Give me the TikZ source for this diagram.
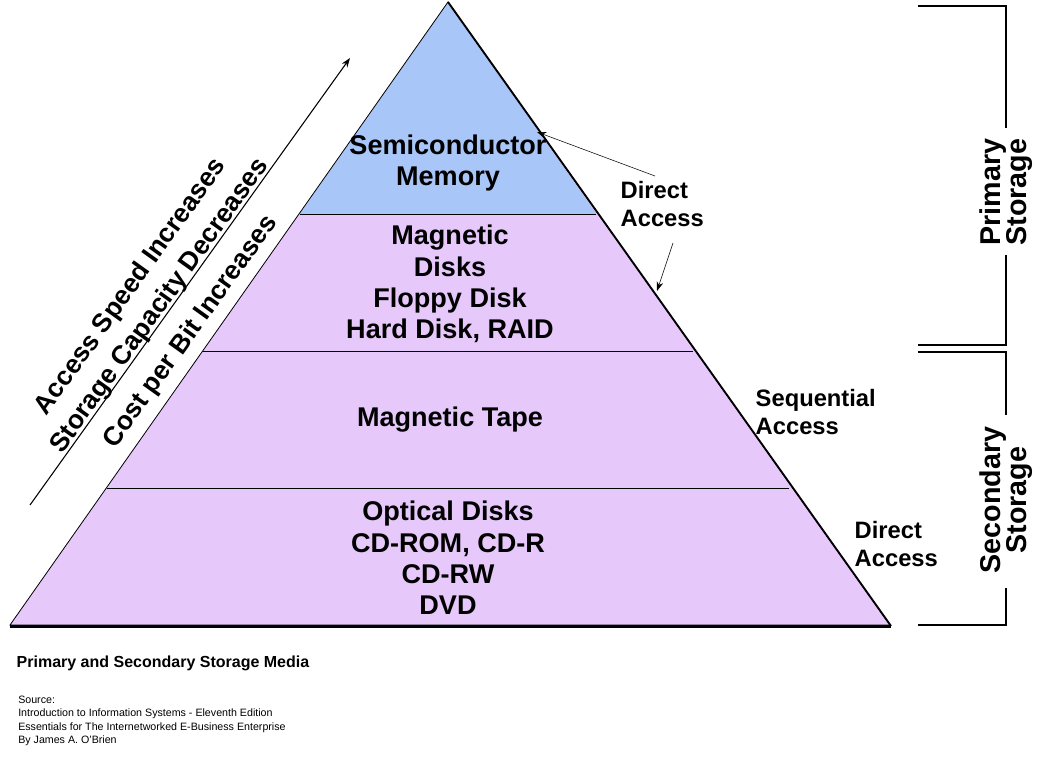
\documentclass[tikz,border=0pt]{standalone}
\usepackage{fontspec}
\setmainfont{Liberation Sans}
\usetikzlibrary{arrows.meta}
\begin{document}
\begin{tikzpicture}[x=0.75pt,y=-0.75pt,
  lbl/.style={font=\fontsize{20.3}{23.5}\bfseries\selectfont,align=center},
  side/.style={font=\fontsize{17.8}{21.5}\bfseries\selectfont,align=left},
  br/.style={font=\fontsize{21.5}{20}\bfseries\selectfont,align=center,rotate=90},
  rot/.style={font=\fontsize{19.8}{20}\bfseries\selectfont,rotate=54.4},
  tk/.style={line width=0.8pt},
  ar/.style={-{Stealth[length=7pt,width=5pt]}}]
\useasboundingbox (0,0) rectangle (1048,783);
\definecolor{blu}{HTML}{A9C6F8}
\definecolor{lav}{HTML}{E6C8FA}
% pyramid
\coordinate (A) at (448,2);
\coordinate (L) at (10,625);
\coordinate (R) at (890,625);
\fill[lav] (L) -- (R) -- (A) -- cycle;
\fill[blu] (A) -- (299.6,214) -- (596.4,214) -- cycle;
\draw[line width=0.6pt] (A) -- (L) -- (R) -- cycle;
\draw[line width=2pt] (10,626.5) -- (891,626.5);
\draw[line width=1.4pt] (A) -- (891,626);
\draw (299.6,214) -- (596.4,214);
\draw (203.3,351) -- (692.7,351);
\draw (107.1,488) -- (788.9,488);
\node[lbl] (sm) at (448,163) {Semiconductor\\Memory};
\node[lbl] (md) at (450,284) {Magnetic\\Disks\\Floppy Disk\\Hard Disk, RAID};
\node[lbl] (mt) at (450,420) {Magnetic Tape};
\node[lbl] (od) at (448,558) {Optical Disks\\CD-ROM, CD-R\\CD-RW\\DVD};
% access labels
\node[side,anchor=west] (da1) at (616,204) {Direct\\Access};
\node[side,anchor=west] (sa) at (751,412) {Sequential\\Access};
\node[side,anchor=west] (da2) at (850,544) {Direct\\Access};
\coordinate (p1) at (537,132);
\coordinate (p2) at (657,291);
\draw[ar] (655,176) -- (p1);
\draw[ar] (673,243) -- (p2);
% left arrow and texts
\coordinate (a0) at (30,505);
\coordinate (a1) at (350,58);
\draw[ar,line width=0.8pt] (a0) -- (a1);
\node[rot] (t1) at (131,287) {Access Speed Increases};
\node[rot] (t2) at (160,306) {Storage Capacity Decreases};
\node[rot] (t3) at (191,332) {Cost per Bit Increases};
% brackets
\draw[tk] (918,6) -- (1006,6) -- (1006,128);
\draw[tk] (1006,255) -- (1006,345) -- (918,345);
\draw[tk] (918,352) -- (1006,352) -- (1006,415);
\draw[tk] (1006,588) -- (1006,625) -- (918,625);
\node[br] (ps) at (1006,192) {Primary\\Storage};
\node[br] (ss) at (1006,500) {Secondary\\Storage};
% captions
\node[anchor=west,font=\fontsize{12}{14}\bfseries\selectfont] (cap) at (12,663) {Primary and Secondary Storage Media};
\node[anchor=north west,align=left,font=\fontsize{8}{9.9}\selectfont,inner sep=0pt] (src) at (18,696) {Source:\\Introduction to Information Systems - Eleventh Edition\\Essentials for The Internetworked E-Business Enterprise\\By James A. O'Brien};
\end{tikzpicture}
\end{document}
